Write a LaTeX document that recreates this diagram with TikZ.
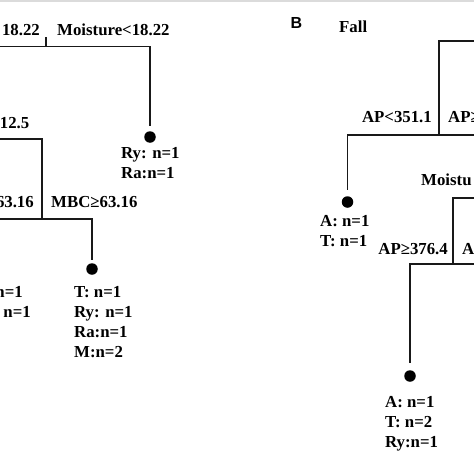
\documentclass[tikz,border=0pt]{standalone}
\usepackage{fontspec}
\setmainfont{Liberation Serif}
\newfontfamily\sansB{Liberation Sans}
\newcommand\leafstrut{\rule{0pt}{12pt}}
\begin{document}
\begin{tikzpicture}[x=1pt,y=-1pt,
  edge/.style={line width=1.2pt, draw=black!90},
  lbl/.style={inner sep=0, font=\bfseries\fontsize{16.8}{20}\selectfont},
  leaf/.style={lbl, align=left, anchor=north west},
  dot/.style={circle, fill=black, inner sep=0, minimum size=11.5pt}]
\useasboundingbox (0,0) rectangle (474,474);
\fill[white] (0,0) rectangle (474,474);
\fill[black!14] (0,0) rectangle (474,2);

% ---------- left panel ----------
\coordinate (Lstem) at (46,37);
\coordinate (Lsplit) at (46,46.5);
\coordinate (Lbar) at (0,46.5);
\node[dot] (L1) at (150,137) {};
\draw[edge] (Lstem) -- (Lsplit);
\draw[edge, shorten >=5pt] (Lbar) -| (L1);

\coordinate (L2in) at (0,139);
\coordinate (L3) at (42,219);
\coordinate (L3bar) at (0,219);
\node[dot] (L4) at (92,269) {};
\draw[edge] (L2in) -| (L3);
\draw[edge, shorten >=3.5pt] (L3bar) -| (L4);

\node[lbl, anchor=base east] (t1) at (40,35) {18.22};
\node[lbl, anchor=base west] (t2) at (57,35) {Moisture<18.22};
\node[lbl, anchor=base east] (t3) at (29.5,128) {12.5};
\node[lbl, anchor=base east] (t4) at (34,207) {63.16};
\node[lbl, anchor=base west] (t5) at (51,207) {MBC≥63.16};
\node[leaf] (f1) at (121,146) {\leafstrut Ry: n=1\\Ra:n=1};
\node[lbl, anchor=base east] (f2a) at (23,297) {n=1};
\node[lbl, anchor=base east] (f2b) at (31,317) {n=1};
\node[leaf] (f3) at (74,285) {\leafstrut T: n=1\\Ry: n=1\\Ra:n=1\\M:n=2};

% ---------- right panel ----------
\coordinate (Rin) at (474,41);
\coordinate (R1) at (439,135);
\coordinate (R1bar) at (474,135);
\node[dot] (R2) at (347.5,202) {};
\draw[edge] (Rin) -| (R1);
\draw[edge, shorten >=6pt] (R1bar) -| (R2);

\coordinate (R3in) at (474,198);
\coordinate (R3) at (453,264);
\coordinate (R3bar) at (474,264);
\node[dot] (R4) at (410,376) {};
\draw[edge] (R3in) -| (R3);
\draw[edge, shorten >=7pt] (R3bar) -| (R4);

\node[font=\sansB\bfseries\fontsize{16}{18}\selectfont, inner sep=0, anchor=base west] (B) at (290.5,28.5) {B};
\node[lbl, anchor=base west] (fall) at (339,32) {Fall};
\node[lbl, anchor=base east] (r1) at (432,122) {AP<351.1};
\node[lbl, anchor=base west] (r2) at (448,122) {AP≥};
\node[leaf] (rf1) at (320,214) {\leafstrut A: n=1\\T: n=1};
\node[lbl, anchor=base west] (r3) at (421,185) {Moistu};
\node[lbl, anchor=base east] (r4) at (448,254) {AP≥376.4};
\node[lbl, anchor=base west] (r5) at (462,254) {A};
\node[leaf] (rf2) at (385,395) {\leafstrut A: n=1\\T: n=2\\Ry:n=1};
\end{tikzpicture}
\end{document}
